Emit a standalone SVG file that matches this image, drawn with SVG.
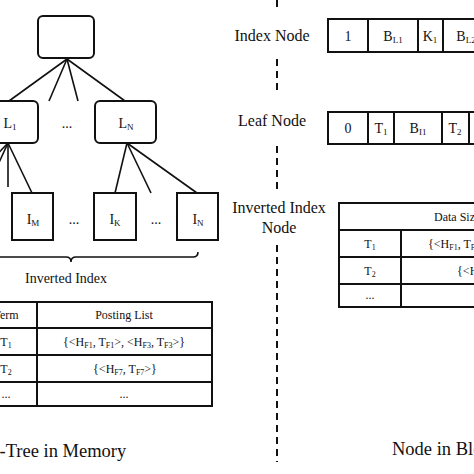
<svg xmlns="http://www.w3.org/2000/svg" width="474" height="474" viewBox="0 0 474 474">
<style>
text{font-family:"Liberation Serif","Times New Roman",serif;fill:#111}
.box{fill:#fff;stroke:#111;stroke-width:2}
.ln{stroke:#111;stroke-width:1.6;fill:none}
.tb{stroke:#111;stroke-width:2;fill:none}
.dash{stroke:#111;stroke-width:2;stroke-dasharray:7 5;fill:none}
.lbl{font-size:14px;text-anchor:middle}
.cell{font-size:14px;text-anchor:middle}
.sm{font-size:12px;text-anchor:middle}
.side{font-size:16px;text-anchor:middle}
.title{font-size:18.5px}
</style>
<rect width="474" height="474" fill="#fff"/>
<g id="connectors">
<line class="ln" x1="67" y1="59" x2="9" y2="101"/>
<line class="ln" x1="67" y1="59" x2="49" y2="101"/>
<line class="ln" x1="67" y1="59" x2="78" y2="101"/>
<line class="ln" x1="67" y1="59" x2="125" y2="101"/>
<line class="ln" x1="8" y1="143" x2="8" y2="187"/>
<line class="ln" x1="8" y1="143" x2="32" y2="193"/>
<line class="ln" x1="8" y1="143" x2="-40" y2="193"/>
<line class="ln" x1="8" y1="143" x2="-15" y2="193"/>
<line class="ln" x1="127" y1="143" x2="115" y2="193"/>
<line class="ln" x1="127" y1="143" x2="151" y2="193"/>
<line class="ln" x1="127" y1="143" x2="197" y2="193"/>
</g>
<g id="root"><rect class="box" x="38" y="16" width="56" height="42" rx="5"/></g>
<g id="L1"><rect class="box" x="-22" y="101" width="60" height="42" rx="5"/>
<text class="lbl" x="10" y="128">L<tspan font-size="9" dy="2">1</tspan></text></g>
<text class="lbl" x="67" y="128">...</text>
<g id="LN"><rect class="box" x="95" y="101" width="61" height="42" rx="5"/>
<text class="lbl" x="126" y="128">L<tspan font-size="9" dy="2">N</tspan></text></g>
<g id="IM"><rect class="box" x="12" y="193" width="41" height="47"/>
<text class="lbl" x="33" y="224">I<tspan font-size="9" dy="2">M</tspan></text></g>
<text class="lbl" x="74" y="224">...</text>
<g id="IK"><rect class="box" x="94" y="193" width="42" height="47"/>
<text class="lbl" x="115" y="224">I<tspan font-size="9" dy="2">K</tspan></text></g>
<text class="lbl" x="156" y="224">...</text>
<g id="IN"><rect class="box" x="177" y="193" width="41" height="47"/>
<text class="lbl" x="198" y="224">I<tspan font-size="9" dy="2">N</tspan></text></g>
<g id="brace">
<path class="ln" d="M-5 252 Q-5 257 0 257 L66 257 Q71 257 71 262 Q71 257 76 257 L193 257 Q198 257 198 252"/>
<text class="lbl" x="66" y="283">Inverted Index</text>
</g>
<g id="posting-table">
<rect class="tb" x="-25" y="302" width="237" height="104"/>
<line class="tb" x1="-25" y1="328" x2="212" y2="328"/>
<line class="tb" x1="-25" y1="355" x2="212" y2="355"/>
<line class="tb" x1="-25" y1="382" x2="212" y2="382"/>
<line class="tb" x1="37" y1="302" x2="37" y2="406"/>
<text class="sm" x="6" y="319">Term</text>
<text class="sm" x="124" y="319">Posting List</text>
<text class="sm" x="6" y="346">T<tspan font-size="8" dy="2">1</tspan></text>
<text class="sm" x="124" y="346">{&lt;H<tspan font-size="8" dy="2">F1</tspan><tspan dy="-2">, T</tspan><tspan font-size="8" dy="2">F1</tspan><tspan dy="-2">&gt;, &lt;H</tspan><tspan font-size="8" dy="2">F3</tspan><tspan dy="-2">, T</tspan><tspan font-size="8" dy="2">F3</tspan><tspan dy="-2">&gt;}</tspan></text>
<text class="sm" x="6" y="373">T<tspan font-size="8" dy="2">2</tspan></text>
<text class="sm" x="125" y="373">{&lt;H<tspan font-size="8" dy="2">F7</tspan><tspan dy="-2">, T</tspan><tspan font-size="8" dy="2">F7</tspan><tspan dy="-2">&gt;}</tspan></text>
<text class="sm" x="6" y="398" font-size="10">...</text>
<text class="sm" x="124" y="398" font-size="10">...</text>
</g>
<text class="title" x="-0.5" y="457">-Tree in Memory</text>
<g id="divider">
<line class="dash" x1="277" y1="0" x2="277" y2="12"/>
<line class="dash" x1="277" y1="59" x2="277" y2="95"/>
<line class="dash" x1="277" y1="146" x2="277" y2="194"/>
<line class="dash" x1="277" y1="245" x2="277" y2="462"/>
</g>
<g id="index-node">
<text class="side" x="272" y="41">Index Node</text>
<rect class="tb" x="328" y="19" width="160" height="33"/>
<line class="tb" x1="368" y1="19" x2="368" y2="52"/>
<line class="tb" x1="418" y1="19" x2="418" y2="52"/>
<line class="tb" x1="443" y1="19" x2="443" y2="52"/>
<text class="cell" x="348" y="41">1</text>
<text class="cell" x="393" y="41">B<tspan font-size="9" dy="2">L1</tspan></text>
<text class="cell" x="430" y="41">K<tspan font-size="9" dy="2">1</tspan></text>
<text class="cell" x="466" y="41">B<tspan font-size="9" dy="2">L2</tspan></text>
</g>
<g id="leaf-node">
<text class="side" x="272" y="126">Leaf Node</text>
<rect class="tb" x="328" y="112" width="160" height="32"/>
<line class="tb" x1="368" y1="112" x2="368" y2="144"/>
<line class="tb" x1="394" y1="112" x2="394" y2="144"/>
<line class="tb" x1="442" y1="112" x2="442" y2="144"/>
<line class="tb" x1="469" y1="112" x2="469" y2="144"/>
<text class="cell" x="348" y="133">0</text>
<text class="cell" x="381" y="133">T<tspan font-size="9" dy="2">1</tspan></text>
<text class="cell" x="418" y="133">B<tspan font-size="9" dy="2">I1</tspan></text>
<text class="cell" x="455" y="133">T<tspan font-size="9" dy="2">2</tspan></text>
</g>
<g id="inverted-index-node">
<text class="side" x="279" y="213">Inverted Index</text>
<text class="side" x="279" y="233">Node</text>
<rect class="tb" x="339" y="203" width="160" height="104"/>
<line class="tb" x1="339" y1="230" x2="499" y2="230"/>
<line class="tb" x1="339" y1="257" x2="499" y2="257"/>
<line class="tb" x1="339" y1="284" x2="499" y2="284"/>
<line class="tb" x1="401" y1="230" x2="401" y2="307"/>
<text class="sm" x="434" y="221" text-anchor="start" style="text-anchor:start">Data Size</text>
<text class="sm" x="370" y="248">T<tspan font-size="8" dy="2">1</tspan></text>
<text class="sm" x="489" y="248">{&lt;H<tspan font-size="8" dy="2">F1</tspan><tspan dy="-2">, T</tspan><tspan font-size="8" dy="2">F1</tspan><tspan dy="-2">&gt;, &lt;H</tspan><tspan font-size="8" dy="2">F3</tspan><tspan dy="-2">, T</tspan><tspan font-size="8" dy="2">F3</tspan><tspan dy="-2">&gt;}</tspan></text>
<text class="sm" x="370" y="275">T<tspan font-size="8" dy="2">2</tspan></text>
<text class="sm" x="489" y="275">{&lt;H<tspan font-size="8" dy="2">F7</tspan><tspan dy="-2">, T</tspan><tspan font-size="8" dy="2">F7</tspan><tspan dy="-2">&gt;}</tspan></text>
<text class="sm" x="370" y="299" font-size="10">...</text>
</g>
<text class="title" x="392" y="455">Node in Block</text>
</svg>
